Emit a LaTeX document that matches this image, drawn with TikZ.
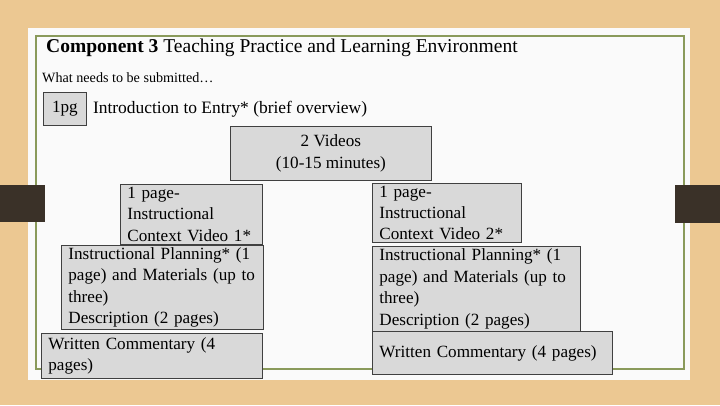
\documentclass[tikz,border=0pt]{standalone}
\usepackage{fontspec}
\setmainfont{Liberation Serif}
\usetikzlibrary{positioning}
\definecolor{wood}{RGB}{236,200,146}
\definecolor{tabbrown}{RGB}{58,49,40}
\definecolor{olive}{RGB}{138,154,91}
\definecolor{panel}{RGB}{250,250,250}
\definecolor{boxgray}{RGB}{217,217,217}
\tikzstyle{slide}=[
  x=1bp,y=-1bp,font=\fontsize{17.2}{21.5}\selectfont
]
\tikzstyle{box}=[
  draw=black!75,fill=boxgray,line width=0.8bp,inner sep=0pt,anchor=north west,align=left
]
\tikzstyle{plain}=[
  inner sep=0pt,anchor=west
]

\begin{document}
\begin{tikzpicture}[slide]
    \useasboundingbox (0,0) rectangle (720,405);
    % background and slide panel
    \fill[wood] (0,0) rectangle (720,405);
    \fill[panel] (28,28) rectangle (690,380);
    \draw[olive,line width=2bp] (36,36) rectangle (684,369);
    \fill[tabbrown] (0,185) rectangle (45,222);
    \fill[tabbrown] (675,185) rectangle (720,223);
    % heading
    \node (title) at (46,48) [plain,font=\fontsize{19.6}{22}\selectfont]
      {\textbf{Component 3} Teaching Practice and Learning Environment};
    \node (sub) at (42,78) [plain,font=\fontsize{14.2}{16}\selectfont]
      {What needs to be submitted\ldots};
    \node (pg) at (43,92) [box,align=center,minimum width=43bp,minimum height=33bp] {1pg};
    \node (intro) [plain,right=6bp of pg,font=\fontsize{17.5}{21}\selectfont]
      {Introduction to Entry* (brief overview)};
    % videos
    \node (vid) at (230,126) [box,align=center,minimum width=201bp,minimum height=54bp]
      {2 Videos\\(10-15 minutes)};
    % first video
    \node (ctx1) at (120,184) [box,minimum width=142bp,minimum height=60bp,text width=128bp]
      {1 page-\\Instructional\\Context Video 1*};
    \node (plan1) at (61,245) [box,minimum width=202bp,minimum height=84bp,text width=188bp]
      {Instructional Planning* (1\\page) and Materials (up to\\three)\\Description (2 pages)};
    \node (comm1) at (41,333) [box,minimum width=221bp,minimum height=45bp,text width=207bp]
      {Written Commentary (4\\pages)};
    % second video
    \node (ctx2) at (372,183) [box,minimum width=149bp,minimum height=59bp,text width=135bp]
      {1 page-\\Instructional\\Context Video 2*};
    \node (plan2) at (372,246) [box,minimum width=208bp,minimum height=85bp,text width=194bp]
      {Instructional Planning* (1\\page) and Materials (up to\\three)\\Description (2 pages)};
    \node (comm2) at (372,331) [box,minimum width=240bp,minimum height=43bp,text width=226bp]
      {Written Commentary (4 pages)};
\end{tikzpicture}
\end{document}
